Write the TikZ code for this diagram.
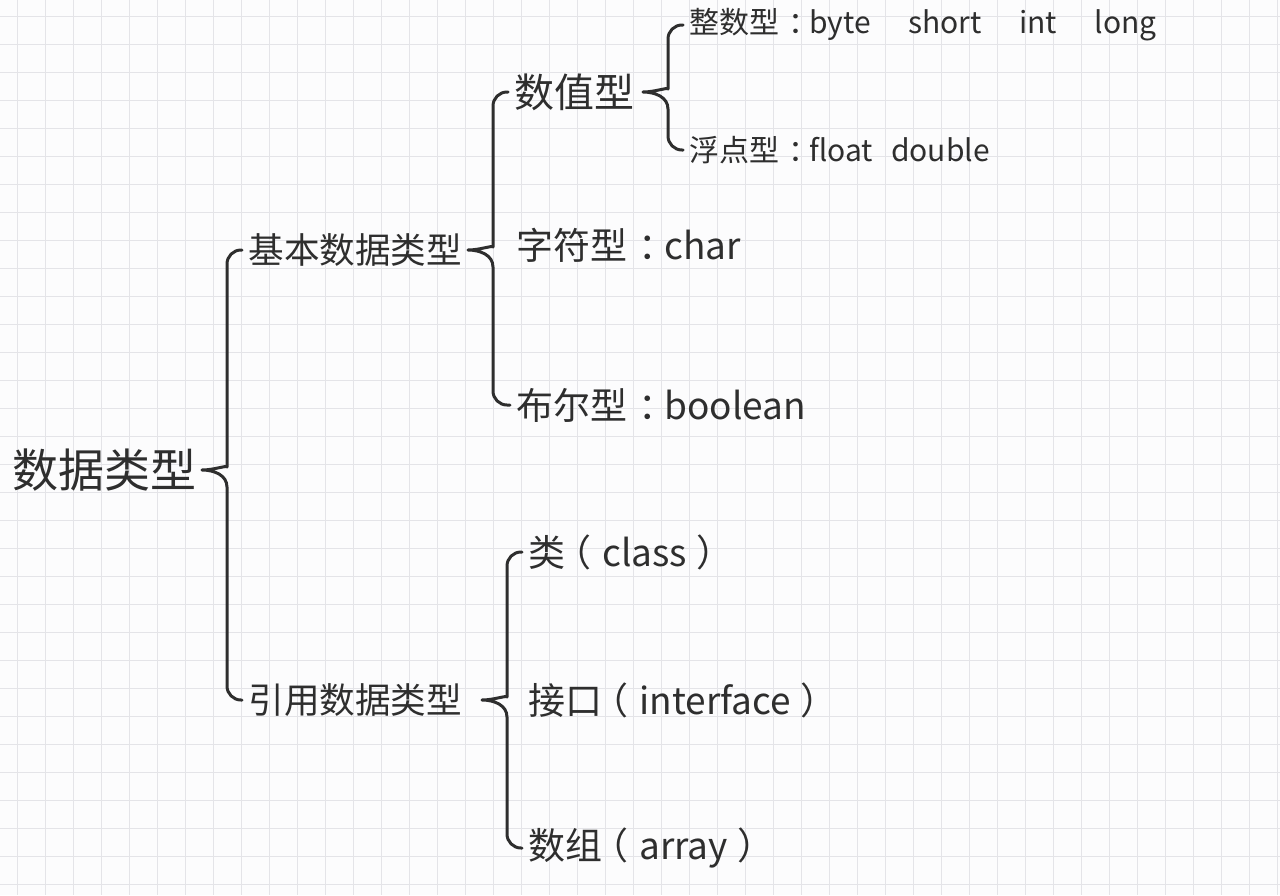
\documentclass[tikz,border=0pt]{standalone}
\usepackage{fontspec}
\newfontfamily\cjk{Noto Sans CJK SC}
\usetikzlibrary{positioning,calc}
\definecolor{ink}{HTML}{2E2E2E}
\definecolor{gridc}{HTML}{E4E4E8}
\definecolor{paper}{HTML}{FCFCFD}
\tikzset{
txt/.style = {inner sep=0pt, anchor=west, text=ink},
lvlzero/.style = {txt, font=\cjk\fontsize{23}{28}\selectfont},
lvlone/.style = {txt, font=\cjk\fontsize{17.8}{22}\selectfont},
lvltwo/.style = {txt, font=\cjk\fontsize{18.5}{22}\selectfont},
lvlbig/.style = {txt, font=\cjk\fontsize{20}{24}\selectfont},
lvlthree/.style = {txt, font=\cjk\fontsize{15}{18}\selectfont},
brk/.style = {draw=ink, line width=1.5pt, line cap=round, line join=round},
gridline/.style = {draw=gridc, line width=0.5pt}
}
% full-width colon and brackets, centred in their boxes
\newcommand{\cln}{\hspace{0.3em}：\hspace{-0.3em}}
\newcommand{\lpar}{\hspace{-0.3em}（\hspace{0.3em}}
\newcommand{\rpar}{\hspace{0.25em}）}
% brace from parent #1 to children #2 (first) .. #3 (last)
\newcommand{\brc}[3]{%
  \coordinate (v) at ($(#2.west)+(-21,0)$);
  \coordinate (t) at ($(v |- #1.east)+(-25,0)$);
  \draw[brk] ($(#2.west)+(-6,0)$) [rounded corners=7pt] -- (v |- #2.west)
    -- ($(v |- t)+(0,-17)$) [sharp corners]
    .. controls ($(v |- t)+(0,-5)$) and ($(t)+(12,0)$) .. (t)
    .. controls ($(t)+(12,0)$) and ($(v |- t)+(0,5)$) .. ($(v |- t)+(0,17)$)
    [rounded corners=7pt] -- (v |- #3.west) -- ($(#3.west)+(-6,0)$);
}

\begin{document}
\begin{tikzpicture}[x=0.5pt, y=-0.5pt]
    \useasboundingbox (0,0) rectangle (1280,895);
    \fill[paper] (0,0) rectangle (1280,895);
    \foreach \i in {0,...,45}
        \draw[gridline] (17+28*\i,0) -- (17+28*\i,895);
    \foreach \j in {0,...,31}
        \draw[gridline] (0,16+28*\j) -- (1280,16+28*\j);

    \node [lvlzero] (dt) at (12,470) {数据类型};

    \node [lvlone] (basic) at (248,250) {基本数据类型};
    \node [lvlone] (ref) at (248,700) {引用数据类型};

    \node [lvlbig] (num) at (514,92) {数值型};
    \node [lvltwo] (chr) at (516,245) {字符型\cln char};
    \node [lvltwo] (bool) at (516,405) {布尔型\cln boolean};

    \node [lvlthree] (int) at (689,25) {整数型\cln byte\hspace{1.25em}short\hspace{1.25em}int\hspace{1.25em}long};
    \node [lvlthree] (flt) at (689,150) {浮点型\cln float\hspace{0.6em}double};

    \node [lvltwo] (cls) at (528,552) {类\lpar class\rpar};
    \node [lvltwo] (itf) at (528,700) {接口\lpar interface\rpar};
    \node [lvltwo] (arr) at (528,848) {数组\lpar array\rpar};

    \brc{dt}{basic}{ref}
    \brc{basic}{num}{bool}
    \brc{num}{int}{flt}
    \brc{ref}{cls}{arr}
\end{tikzpicture}
\end{document}
